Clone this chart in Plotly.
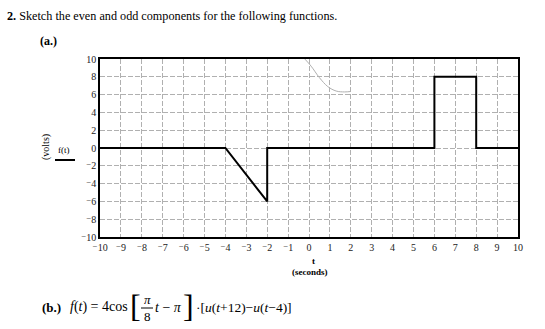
import plotly.graph_objects as go

# data
t_vals = [-10, -4, -2, -2, 6, 6, 8, 8, 10]
f_vals = [0, 0, -6, 0, 0, 8, 8, 0, 0]
x_ticks = list(range(-10, 11))
y_ticks = list(range(-10, 11, 2))
# faint stray pencil arc on the scanned page
arc_t = [-0.2, 0.1, 0.5, 0.9, 1.3, 1.7, 2.0]
arc_f = [10, 9.2, 7.9, 6.9, 6.4, 6.3, 6.35]

def lab(v):
    return ("\u207b" + str(-v)) if v < 0 else str(v)

SERIF = "Liberation Serif, Times New Roman, DejaVu Serif, serif"
fig = go.Figure()
fig.add_trace(go.Scatter(x=arc_t, y=arc_f, mode="lines", line=dict(color="#b0b0b0", width=1, shape="spline"),
                         hoverinfo="skip", showlegend=False))
fig.add_trace(go.Scatter(x=t_vals, y=f_vals, mode="lines", line=dict(color="black", width=2),
                         showlegend=False))

grid = dict(showgrid=True, gridcolor="#b0b0b0", gridwidth=1, griddash="5px,2px",
            showline=True, linecolor="black", linewidth=1.5, mirror=True, zeroline=False,
            ticks="", tickfont=dict(family=SERIF, size=10, color="#222"))
fig.update_xaxes(range=[-10, 10], tickvals=x_ticks, ticktext=[lab(v) for v in x_ticks], **grid)
fig.update_yaxes(range=[-10, 10], tickvals=y_ticks, ticktext=[lab(v) for v in y_ticks], **grid)

ann = []
def A(x, y, text, size=13, xanchor="left", bold=False, angle=0, family=SERIF, pad=1):
    ann.append(dict(xref="paper", yref="paper", x=x, y=y, text=("<b>%s</b>" % text) if bold else text,
                    showarrow=False, xanchor=xanchor, yanchor="middle", textangle=angle, borderpad=pad,
                    font=dict(family=family, size=size, color="black")))

W, H = 545, 329
L, R, T, B = 100, 27, 59, 92
pw, ph = W - L - R, H - T - B
def px(x):
    return (x - L) / pw
def py(y):
    return (H - B - y) / ph

A(px(5), py(16), "<b>2.</b> Sketch the even and odd components for the following functions.", size=12.2)
A(px(38), py(41), "(a.)", size=12, bold=True)
A(px(46), py(147), "(volts)", size=10, angle=-90, xanchor="center")
A(px(64), py(150), "f(t)", size=9, xanchor="center")
A(px(313), py(261), "t", size=9, bold=True, xanchor="center")
A(px(310), py(272), "(seconds)", size=9, bold=True, xanchor="center")

# equation (b.)
yb = 307
A(px(40), py(yb), "(b.)", size=13, bold=True)
A(px(68), py(yb), "<i>f</i>(<i>t</i>) = 4cos", size=14)
A(px(129), py(yb - 1), "[", size=32, pad=0)
A(px(147), py(yb - 8), "<i>\u03c0</i>", size=13, xanchor="center", pad=0)
A(px(147), py(yb + 9), "8", size=13, xanchor="center", pad=0)
A(px(154), py(yb), "<i>t</i> \u2212 <i>\u03c0</i>", size=14, pad=0)
A(px(182), py(yb - 1), "]", size=32, pad=0)
A(px(195), py(yb), "\u00b7[<i>u</i>(<i>t</i>+12)\u2212<i>u</i>(<i>t</i>\u22124)]", size=13.5, pad=0)
fig.update_layout(annotations=ann)

shapes = [
    dict(type="line", xref="paper", yref="paper", x0=px(55), x1=px(75), y0=py(160), y1=py(160),
         line=dict(color="black", width=2)),
    dict(type="line", xref="paper", yref="paper", x0=px(141), x1=px(153), y0=py(yb + 1), y1=py(yb + 1),
         line=dict(color="black", width=1)),
]
fig.update_layout(shapes=shapes)

fig.update_layout(width=W, height=H, margin=dict(l=L, r=R, t=T, b=B),
                  paper_bgcolor="white", plot_bgcolor="white")
fig.write_html("out.html")
